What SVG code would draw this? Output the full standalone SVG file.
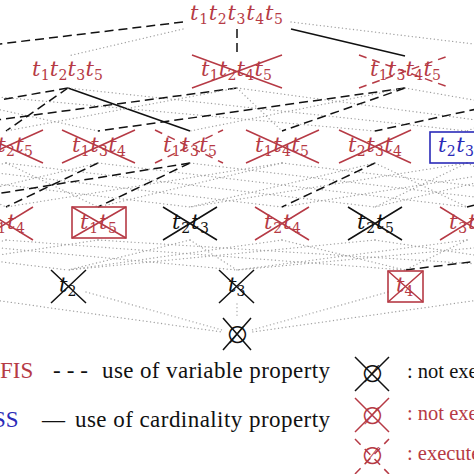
<svg xmlns="http://www.w3.org/2000/svg" width="474" height="474" viewBox="0 0 474 474">
<style>
.lb{font-family:"DejaVu Serif","Liberation Serif",serif;font-size:21px;font-style:italic}
.s{font-size:14px;font-style:normal}
.lg{font-family:"Liberation Serif","DejaVu Serif",serif;font-size:23px}
.lr{font-family:"Liberation Serif","DejaVu Serif",serif;font-size:20.5px}
.es{font-family:"DejaVu Serif","Liberation Serif",serif;font-size:24px}
.red{fill:#b63a45}
.blk{fill:#111}
.blu{fill:#2a2ab8}
.xr{stroke:#b63a45;stroke-width:1.5;fill:none}
.xk{stroke:#111;stroke-width:1.5;fill:none}
.xd{stroke:#b63a45;stroke-width:1.5;stroke-dasharray:8 6;fill:none}
.bx{stroke:#b63a45;stroke-width:1.6;fill:none}
.bb{stroke:#2a2ab8;stroke-width:1.6;fill:none}
.dot{stroke:#a0a0a0;stroke-width:1.3;stroke-dasharray:0.1 3.6;stroke-linecap:round;fill:none}
.dash{stroke:#111;stroke-width:1.5;stroke-dasharray:9 5;fill:none}
.sol{stroke:#111;stroke-width:1.5;fill:none}
</style>
<rect width="474" height="474" fill="#fff"/>
<g id="connectors">
<line class="dash" x1="183" y1="22" x2="-101" y2="56"/>
<line class="dot" x1="183" y1="29" x2="68" y2="56"/>
<line class="dash" x1="237" y1="29" x2="237" y2="56"/>
<line class="sol" x1="291" y1="29" x2="405" y2="56"/>
<line class="dot" x1="291" y1="22" x2="574" y2="56"/>
<line class="dot" x1="-101" y1="88" x2="98" y2="131"/>
<line class="dot" x1="-101" y1="88" x2="375" y2="131"/>
<line class="dash" x1="68" y1="88" x2="-178" y2="131"/>
<line class="dash" x1="68" y1="88" x2="6" y2="131"/>
<line class="sol" x1="68" y1="88" x2="190" y2="131"/>
<line class="dot" x1="68" y1="88" x2="467" y2="131"/>
<line class="dash" x1="237" y1="88" x2="-86" y2="131"/>
<line class="dot" x1="237" y1="88" x2="6" y2="131"/>
<line class="dot" x1="237" y1="88" x2="282" y2="131"/>
<line class="dot" x1="237" y1="88" x2="559" y2="131"/>
<line class="dash" x1="405" y1="88" x2="98" y2="131"/>
<line class="dot" x1="405" y1="88" x2="190" y2="131"/>
<line class="dash" x1="405" y1="88" x2="282" y2="131"/>
<line class="dot" x1="405" y1="88" x2="651" y2="131"/>
<line class="dash" x1="574" y1="88" x2="375" y2="131"/>
<line class="dot" x1="574" y1="88" x2="467" y2="131"/>
<line class="dot" x1="-178" y1="163" x2="190" y2="207"/>
<line class="dot" x1="-86" y1="163" x2="6" y2="207"/>
<line class="dot" x1="-86" y1="163" x2="282" y2="207"/>
<line class="dot" x1="6" y1="163" x2="-178" y2="207"/>
<line class="dot" x1="6" y1="163" x2="98" y2="207"/>
<line class="dot" x1="6" y1="163" x2="375" y2="207"/>
<line class="dot" x1="98" y1="163" x2="-86" y2="207"/>
<line class="dash" x1="98" y1="163" x2="6" y2="207"/>
<line class="dot" x1="98" y1="163" x2="467" y2="207"/>
<line class="dash" x1="190" y1="163" x2="-86" y2="207"/>
<line class="dash" x1="190" y1="163" x2="98" y2="207"/>
<line class="dot" x1="190" y1="163" x2="559" y2="207"/>
<line class="dot" x1="282" y1="163" x2="6" y2="207"/>
<line class="dot" x1="282" y1="163" x2="98" y2="207"/>
<line class="dot" x1="282" y1="163" x2="651" y2="207"/>
<line class="dot" x1="375" y1="163" x2="190" y2="207"/>
<line class="dash" x1="375" y1="163" x2="282" y2="207"/>
<line class="dot" x1="375" y1="163" x2="467" y2="207"/>
<line class="dot" x1="467" y1="163" x2="190" y2="207"/>
<line class="dot" x1="467" y1="163" x2="375" y2="207"/>
<line class="dot" x1="467" y1="163" x2="559" y2="207"/>
<line class="dot" x1="559" y1="163" x2="282" y2="207"/>
<line class="dot" x1="559" y1="163" x2="375" y2="207"/>
<line class="dash" x1="651" y1="163" x2="467" y2="207"/>
<line class="dot" x1="-178" y1="240" x2="68" y2="270"/>
<line class="dot" x1="-86" y1="240" x2="237" y2="270"/>
<line class="dot" x1="6" y1="240" x2="-101" y2="270"/>
<line class="dot" x1="6" y1="240" x2="405" y2="270"/>
<line class="dot" x1="98" y1="240" x2="-101" y2="270"/>
<line class="dot" x1="98" y1="240" x2="574" y2="270"/>
<line class="dot" x1="190" y1="240" x2="68" y2="270"/>
<line class="dot" x1="190" y1="240" x2="237" y2="270"/>
<line class="dot" x1="282" y1="240" x2="68" y2="270"/>
<line class="dot" x1="282" y1="240" x2="405" y2="270"/>
<line class="dot" x1="375" y1="240" x2="68" y2="270"/>
<line class="dot" x1="375" y1="240" x2="574" y2="270"/>
<line class="dot" x1="467" y1="240" x2="237" y2="270"/>
<line class="dot" x1="467" y1="240" x2="405" y2="270"/>
<line class="dot" x1="559" y1="240" x2="237" y2="270"/>
<line class="dash" x1="651" y1="240" x2="405" y2="270"/>
<line class="dot" x1="-84" y1="289" x2="222" y2="332"/>
<line class="dot" x1="86" y1="292" x2="222" y2="330"/>
<line class="dot" x1="237" y1="304" x2="237" y2="317"/>
<line class="dot" x1="388" y1="292" x2="252" y2="330"/>
<line class="dot" x1="557" y1="289" x2="252" y2="332"/>
</g>

<g id="n12345">
<text class="lb red" x="190" y="20" textLength="93"><tspan>t</tspan><tspan class="s" dy="4">1</tspan><tspan dy="-4">t</tspan><tspan class="s" dy="4">2</tspan><tspan dy="-4">t</tspan><tspan class="s" dy="4">3</tspan><tspan dy="-4">t</tspan><tspan class="s" dy="4">4</tspan><tspan dy="-4">t</tspan><tspan class="s" dy="4">5</tspan></text>
</g>
<g id="n1235">
<text class="lb red" x="32" y="76" textLength="71"><tspan>t</tspan><tspan class="s" dy="4">1</tspan><tspan dy="-4">t</tspan><tspan class="s" dy="4">2</tspan><tspan dy="-4">t</tspan><tspan class="s" dy="4">3</tspan><tspan dy="-4">t</tspan><tspan class="s" dy="4">5</tspan></text>
</g>
<g id="n1245">
<text class="lb red" x="201" y="76" textLength="71"><tspan>t</tspan><tspan class="s" dy="4">1</tspan><tspan dy="-4">t</tspan><tspan class="s" dy="4">2</tspan><tspan dy="-4">t</tspan><tspan class="s" dy="4">4</tspan><tspan dy="-4">t</tspan><tspan class="s" dy="4">5</tspan></text>
<path class="xr" d="M192 55L282 88M192 88L282 55"/>
</g>
<g id="n1345">
<text class="lb red" x="370" y="76" textLength="71"><tspan>t</tspan><tspan class="s" dy="4">1</tspan><tspan dy="-4">t</tspan><tspan class="s" dy="4">3</tspan><tspan dy="-4">t</tspan><tspan class="s" dy="4">4</tspan><tspan dy="-4">t</tspan><tspan class="s" dy="4">5</tspan></text>
<path class="xd" d="M359 55L451 88M359 88L451 55"/>
</g>

<g id="n125">
<text class="lb red" x="-21" y="152" textLength="54"><tspan>t</tspan><tspan class="s" dy="4">1</tspan><tspan dy="-4">t</tspan><tspan class="s" dy="4">2</tspan><tspan dy="-4">t</tspan><tspan class="s" dy="4">5</tspan></text>
<path class="xr" d="M-30 130L43 163M-30 163L43 130"/>
</g>
<g id="n134">
<text class="lb red" x="72" y="152" textLength="54"><tspan>t</tspan><tspan class="s" dy="4">1</tspan><tspan dy="-4">t</tspan><tspan class="s" dy="4">3</tspan><tspan dy="-4">t</tspan><tspan class="s" dy="4">4</tspan></text>
<path class="xr" d="M62 130L135 163M62 163L135 130"/>
</g>
<g id="n135">
<text class="lb red" x="163" y="152" textLength="54"><tspan>t</tspan><tspan class="s" dy="4">1</tspan><tspan dy="-4">t</tspan><tspan class="s" dy="4">3</tspan><tspan dy="-4">t</tspan><tspan class="s" dy="4">5</tspan></text>
<path class="xd" d="M155 130L223 163M155 163L223 130"/>
</g>
<g id="n145">
<text class="lb red" x="255" y="152" textLength="54"><tspan>t</tspan><tspan class="s" dy="4">1</tspan><tspan dy="-4">t</tspan><tspan class="s" dy="4">4</tspan><tspan dy="-4">t</tspan><tspan class="s" dy="4">5</tspan></text>
<path class="xr" d="M246 130L319 163M246 163L319 130"/>
</g>
<g id="n234">
<text class="lb red" x="348" y="152" textLength="54"><tspan>t</tspan><tspan class="s" dy="4">2</tspan><tspan dy="-4">t</tspan><tspan class="s" dy="4">3</tspan><tspan dy="-4">t</tspan><tspan class="s" dy="4">4</tspan></text>
<path class="xr" d="M339 130L411 163M339 163L411 130"/>
</g>
<g id="n235">
<rect class="bb" x="430" y="132" width="80" height="31"/>
<text class="lb blu" x="438" y="152" textLength="54"><tspan>t</tspan><tspan class="s" dy="4">2</tspan><tspan dy="-4">t</tspan><tspan class="s" dy="4">3</tspan><tspan dy="-4">t</tspan><tspan class="s" dy="4">5</tspan></text>
</g>

<g id="n14">
<text class="lb red" x="-12" y="229" textLength="37"><tspan>t</tspan><tspan class="s" dy="4">1</tspan><tspan dy="-4">t</tspan><tspan class="s" dy="4">4</tspan></text>
<path class="xr" d="M-21 207L33 240M-21 240L33 207"/>
</g>
<g id="n15">
<rect class="bx" x="72" y="207" width="54" height="31"/>
<text class="lb red" x="80" y="229" textLength="37"><tspan>t</tspan><tspan class="s" dy="4">1</tspan><tspan dy="-4">t</tspan><tspan class="s" dy="4">5</tspan></text>
<path class="xr" d="M72 207L126 238M72 238L126 207"/>
</g>
<g id="n23">
<text class="lb blk" x="172" y="229" textLength="37"><tspan>t</tspan><tspan class="s" dy="4">2</tspan><tspan dy="-4">t</tspan><tspan class="s" dy="4">3</tspan></text>
<path class="xk" d="M163 207L217 240M163 240L217 207"/>
</g>
<g id="n24">
<text class="lb red" x="264" y="229" textLength="37"><tspan>t</tspan><tspan class="s" dy="4">2</tspan><tspan dy="-4">t</tspan><tspan class="s" dy="4">4</tspan></text>
<path class="xr" d="M255 207L309 240M255 240L309 207"/>
</g>
<g id="n25">
<text class="lb blk" x="357" y="229" textLength="37"><tspan>t</tspan><tspan class="s" dy="4">2</tspan><tspan dy="-4">t</tspan><tspan class="s" dy="4">5</tspan></text>
<path class="xk" d="M348 207L402 240M348 240L402 207"/>
</g>
<g id="n34">
<text class="lb red" x="449" y="229" textLength="37"><tspan>t</tspan><tspan class="s" dy="4">3</tspan><tspan dy="-4">t</tspan><tspan class="s" dy="4">4</tspan></text>
<path class="xr" d="M440 207L494 240M440 240L494 207"/>
</g>

<g id="n2">
<text class="lb blk" x="59" y="292"><tspan>t</tspan><tspan class="s" dy="4">2</tspan></text>
<path class="xk" d="M51 270L86 303M51 303L86 270"/>
</g>
<g id="n3">
<text class="lb blk" x="228" y="292"><tspan>t</tspan><tspan class="s" dy="4">3</tspan></text>
<path class="xk" d="M219 270L254 303M219 303L254 270"/>
</g>
<g id="n4">
<rect class="bx" x="388" y="271" width="35" height="31"/>
<text class="lb red" x="396" y="292"><tspan>t</tspan><tspan class="s" dy="4">4</tspan></text>
<path class="xr" d="M388 271L423 302M388 302L423 271"/>
</g>
<g id="n0">
<text class="es blk" x="237" y="343" text-anchor="middle">∅</text>
<path class="xk" d="M223 318L251 350M223 350L251 318"/>
</g>

<g id="legend">
<text class="lg red" x="0" y="378">FIS</text>
<text class="lg blk" x="53" y="378" textLength="35">- - -</text>
<text class="lg blk" x="102" y="378" textLength="228">use of variable property</text>
<text class="lg blu" x="-7" y="427">SS</text>
<text class="lg blk" x="42" y="427" textLength="23">—</text>
<text class="lg blk" x="75" y="427" textLength="255">use of cardinality property</text>
<text class="es blk" x="372" y="382" text-anchor="middle">∅</text>
<path class="xk" d="M355 357L389 391M355 391L389 357"/>
<text class="lr blk" x="407" y="378">: not exec</text>
<text class="es red" x="372" y="424" text-anchor="middle">∅</text>
<path class="xr" d="M355 398L389 432M355 432L389 398"/>
<text class="lr red" x="407" y="420">: not exec</text>
<text class="es red" x="372" y="464" text-anchor="middle">∅</text>
<path class="xd" d="M355 439L389 474M355 474L389 439"/>
<text class="lr red" x="407" y="460">: execute</text>
</g>
</svg>
